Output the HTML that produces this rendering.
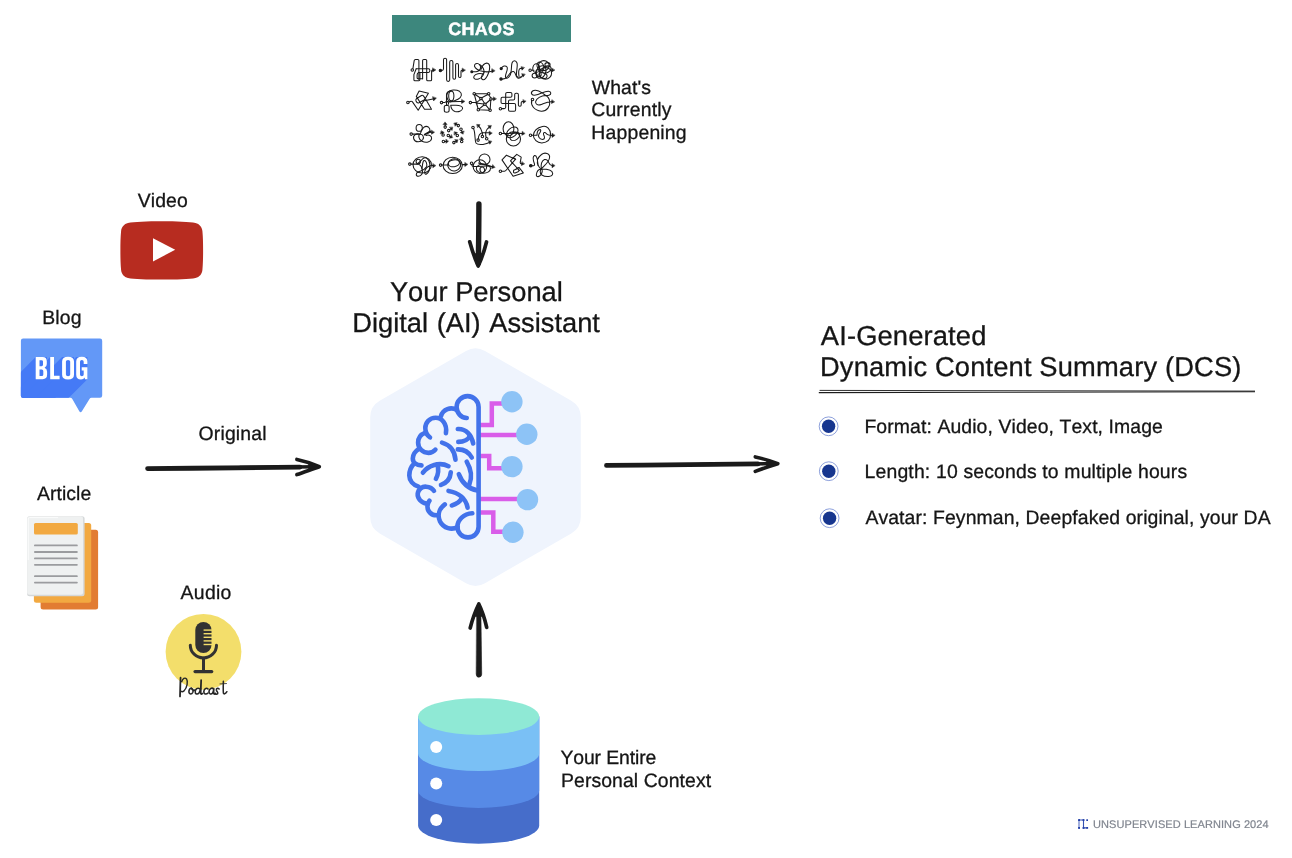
<!DOCTYPE html>
<html>
<head>
<meta charset="utf-8">
<title>Personal Digital AI Assistant</title>
<style>
html,body{margin:0;padding:0;background:#fff;}
body{width:1292px;height:858px;position:relative;overflow:hidden;font-family:"Liberation Sans",sans-serif;color:#151515;font-kerning:none;text-rendering:geometricPrecision;}
#g{position:absolute;left:0;top:0;width:1292px;height:858px;filter:blur(0.35px);}
.t{position:absolute;white-space:nowrap;font-size:19.4px;line-height:23px;}
.h{position:absolute;white-space:nowrap;font-size:27.3px;line-height:32px;}
#txt{position:absolute;left:0;top:0;width:1292px;height:858px;will-change:transform;-webkit-text-stroke:0.3px #151515;filter:blur(0.3px);}
#foot{-webkit-text-stroke:0.2px #7f848e;}
#chaos{position:absolute;left:392px;top:15px;width:179px;height:26.5px;background:#3d877d;color:#fff;font-weight:bold;font-size:17.9px;line-height:28.8px;text-align:center;letter-spacing:0.35px;-webkit-text-stroke:0.5px #fff;overflow:hidden;}
#foot{position:absolute;left:1093px;top:819px;font-size:11px;line-height:13px;color:#7f848e;white-space:nowrap;letter-spacing:0.08px;}
</style>
</head>
<body>
<svg id="g" viewBox="0 0 1292 858" width="1292" height="858">
<g fill="none" stroke="#1a1a1a" stroke-width="1.05" stroke-linecap="round" stroke-linejoin="round">
<circle cx="412.3" cy="70.0" r="1.25"/>
<path d="M412.9 68.7 L414.2 60.6 Q414.4 59.5 415.5 59.5 H417.8 Q418.9 59.5 418.9 60.6 V79.6"/>
<path d="M422.6 78.7 V60.5 Q422.6 59.4 423.7 59.4 H425.6 Q426.7 59.4 426.7 60.5 V79.8 Q426.7 80.8 427.7 80.8 H430.6 Q431.6 80.8 431.6 79.8 V71.1 Q431.6 70.1 432.6 70.1 H434"/>
<path d="M416.2 68.7 H428.4 Q429.9 68.7 429.9 70.5 Q429.9 72.4 428.4 72.4 H418.6 Q417.1 73.3 417.1 75 V77.7 Q417.1 78.7 418.1 78.7 H422.6"/>
<path d="M416.2 68.7 L413.9 74.6 V79.8 Q413.9 80.8 414.9 80.8 H418.9 Q419.9 80.8 419.9 79.6 V72.4"/>
<path d="M435.6 70.1 L432.6 72.0 L432.6 68.2 Z" fill="#1a1a1a" stroke-width="0.5"/>
<circle cx="440.4" cy="70.5" r="1.20" fill="#1a1a1a"/>
<path d="M440.4 70.4 H442 Q443.5 70.3 443.5 68.8 V59.8 A1.55 1.55 0 0 1 446.6 59.8 V79.8 A1.55 1.6 0 0 0 449.7 79.8 V62 A1.6 1.6 0 0 1 452.9 62 V77.8 A1.35 1.4 0 0 0 455.6 77.8 V65 A1.45 1.5 0 0 1 458.5 65 V76.2 A1.25 1.3 0 0 0 461 76.2 V71.3 Q461 70.3 462 70.3 H463.6"/>
<path d="M465.2 70.3 L462.2 72.2 L462.2 68.4 Z" fill="#1a1a1a" stroke-width="0.5"/>
<circle cx="471.8" cy="71.7" r="1.00" fill="#1a1a1a"/>
<path d="M471.8 71.7 H476 C479 71.6 481 69.5 480.5 66.5 C480 63.5 476.5 62.5 474.800 64.500 C473.500 66.500 476 69.500 480 70.800 C484 72 488 72.500 492.5 71"/>
<path d="M481 69.500 C482 65 485 62.800 487.500 63.200 C490.500 63.800 490 69 488.500 73 C487 77.500 484.500 80.500 482.500 79.500 C480.500 78.500 481.500 75 484 72.500"/>
<path d="M483 74 C480 72.800 475.500 73.800 474 76.200 C472.800 78.500 475.500 80 478.500 79 C481.500 78 483.500 75.500 484 72.500 C484.300 70 482.500 66.500 479.500 64.500"/>
<path d="M494.8 70.9 L491.8 72.8 L491.8 69.0 Z" fill="#1a1a1a" stroke-width="0.5"/>
<circle cx="501.2" cy="68.5" r="1.10" fill="#1a1a1a"/>
<circle cx="501.0" cy="79.0" r="1.20" fill="#1a1a1a"/>
<path d="M501.2 68.5 C502.500 66 505.500 65 507 67 C508.500 69.500 505 74 505.500 77 C506 79.500 508.500 78 510 75.500 C512 72 511 66 512 63 C513 60 516 60 517 63 C518 66 516 72 516.500 75.500 C517 78 519.500 77 521 77"/>
<path d="M501 79 C504 79.500 506 78.500 507.500 76.500 C509.500 73.500 511.500 71.200 513.500 71.500 C516 72 515 76 517.500 77.800 C519.500 79 522 76.500 523 75"/>
<path d="M519 76 C518.500 73 518.500 70.500 519.500 69 C520.300 68 521.500 68.500 522.500 68.300"/>
<path d="M524.3 67.8 L522.0 70.2 L521.2 66.9 Z" fill="#1a1a1a" stroke-width="0.5"/>
<path d="M525.0 74.5 L523.0 77.1 L521.8 73.9 Z" fill="#1a1a1a" stroke-width="0.5"/>
<circle cx="530.1" cy="70.2" r="1.20"/>
<path d="M531.4 70.3 H534"/>
<ellipse cx="543.8" cy="65.6" rx="5.4" ry="5.0"/>
<ellipse cx="545.4" cy="73.3" rx="6.2" ry="5.8"/>
<ellipse cx="536.2" cy="68.2" rx="3.4" ry="4.4" transform="rotate(10 536.2 68.2)"/>
<ellipse cx="534.6" cy="75.6" rx="2.5" ry="2.4"/>
<ellipse cx="541.0" cy="72.0" rx="4.6" ry="6.6" transform="rotate(25 541.0 72.0)"/>
<ellipse cx="546.5" cy="69.5" rx="4.8" ry="3.2" transform="rotate(-30 546.5 69.5)"/>
<ellipse cx="540.5" cy="66.5" rx="3.2" ry="4.6" transform="rotate(-25 540.5 66.5)"/>
<ellipse cx="543.0" cy="75.5" rx="4.2" ry="2.6" transform="rotate(20 543.0 75.5)"/>
<ellipse cx="547.5" cy="64.8" rx="2.6" ry="2.2"/>
<ellipse cx="538.5" cy="73.2" rx="2.4" ry="3.6" transform="rotate(-20 538.5 73.2)"/>
<path d="M550.5 70.2 H552.5"/>
<path d="M554.6 70.2 L551.6 72.1 L551.6 68.3 Z" fill="#1a1a1a" stroke-width="0.5"/>
<circle cx="407.9" cy="102.5" r="1.25"/>
<path d="M409.2 102 Q411 100.800 412.3 101.6 L418.2 110.3 L428.400 93.300 L419.100 91.100 L416.300 96.400 L424.500 109.300 H431.500 L425.300 98.400 L423.200 95.600 Q422.500 95 421.500 95.500 L416.600 98.500 Q415.500 99.500 416 101 Q417 103.500 419 102.800 L424 100 Q425.500 99 424.800 97.800"/>
<path d="M424.5 100.800 L434 98.800"/>
<path d="M436.2 98.2 L433.6 100.9 L432.6 97.0 Z" fill="#1a1a1a" stroke-width="0.5"/>
<circle cx="441.5" cy="102.6" r="1.25"/>
<path d="M442.800 102.500 H445 Q447 100.500 448.200 102 Q449.200 103.500 447.800 105"/>
<path d="M450 102 C447 99.5 445.8 96 447.6 92.5 C450 89.5 456 89.3 459.5 91.3 C462.5 93.5 462 97 458 99.3 C455.5 100.7 452.5 101.5 450 102"/>
<ellipse cx="451.3" cy="96.0" rx="2.6" ry="4.7"/>
<path d="M450.7 105.2 C451 108 452.5 110.5 455 111.5 C458.5 112.5 462 111 462.6 108.5 C462.8 106.5 460 105.2 456 105.2 C454 105.2 452 105.2 450.7 105.2"/>
<path d="M444.300 106.500 Q444.300 105.500 445.500 105.500 H447.800 Q449.100 105.500 449.100 106.800 V110.500 Q449.100 112.200 446.700 112.200 Q444.300 112.200 444.300 110.500 Z"/>
<path d="M446.500 105.500 V95 Q446.500 92 449.500 91.200"/>
<path d="M447.800 102 C452 101.500 458 101.600 462.500 101.600"/>
<path d="M464.6 101.6 L461.6 103.5 L461.6 99.7 Z" fill="#1a1a1a" stroke-width="0.5"/>
<circle cx="474.2" cy="93.7" r="1.25"/>
<circle cx="488.7" cy="93.7" r="1.25"/>
<circle cx="470.4" cy="102.6" r="1.25"/>
<circle cx="480.9" cy="98.6" r="1.25"/>
<circle cx="490.9" cy="99.0" r="1.25"/>
<circle cx="484.9" cy="104.2" r="1.25"/>
<circle cx="478.3" cy="109.7" r="1.25"/>
<circle cx="490.1" cy="110.3" r="1.25"/>
<path d="M475.400 93.700 H487.500 M474.500 95 L478 108.500 M479.500 109.700 L488.900 110.300 M488.900 95 L490.700 97.800 M490.800 100.200 L490.200 109 M471.700 102.500 H476.500 M475.200 94.500 L480 97.800 M482 99.200 L484.300 103 M485.800 105.200 L489.400 109.400 M487.800 94.500 L481.800 97.800 M480.200 99.700 L476.200 102.800 L478.100 108.500 M484 105 L479.300 108.900 M486 103.500 L490 100 M476 103 L483.700 104"/>
<path d="M492.100 99 H494"/>
<path d="M496.2 99.0 L493.4 100.8 L493.4 97.2 Z" fill="#1a1a1a" stroke-width="0.5"/>
<circle cx="500.4" cy="108.8" r="1.25"/>
<path d="M501.700 108.600 H504.400 Q505.700 108.500 505.700 107.200 V93.800 Q505.700 92.400 507.100 92.400 H510.500 Q511.900 92.400 511.900 93.800 V96 Q511.900 97.300 510.500 97.300 H502.400 Q501.050 97.300 501.050 98.700 V102.200 Q501.050 103.500 502.400 103.500 H514.200 Q515.600 103.500 515.600 104.900 V109.800 Q515.600 111.200 514.200 111.200 H509.900 Q508.500 111.200 508.500 109.800 V101.400 Q508.500 100 509.900 100 H513.300 Q514.700 100 514.700 98.600 V94.600 Q514.700 93.300 516.100 93.300 H517 Q518.400 93.300 518.400 94.700 V105 Q518.400 106.200 519.600 106.200 H520 Q521.200 106.200 521.200 105 V102.700 Q521.200 101.500 522.400 101.500 H523.800"/>
<path d="M525.8 101.4 L523.2 103.4 L522.9 99.9 Z" fill="#1a1a1a" stroke-width="0.5"/>
<circle cx="532.5" cy="99.4" r="1.25"/>
<path d="M531.700 100.500 C530.500 105 534 110.500 541.300 111.200 C547 111.500 550.500 106 549.700 101.500 C549.200 98.500 547.500 96.200 545.600 95.500 C541 95.500 536.500 98.500 535.700 101.300 C535 104 537.500 105.800 541.300 104.400 C545 103 548.500 101.200 552.300 101.800"/>
<path d="M545.600 95.500 C541.500 91.500 535.500 88.800 532.600 91 C530 93.200 532 95.800 535.700 95.100 C540 94.200 544.500 91 548.500 91.200 C551.500 91.500 551.500 94.500 549 95.200 C547.500 95.600 546.500 95.600 545.600 95.500"/>
<path d="M554.4 102.0 L551.5 103.5 L551.8 100.0 Z" fill="#1a1a1a" stroke-width="0.5"/>
<circle cx="411.2" cy="134.1" r="1.25"/>
<path d="M412.500 134.100 H420"/>
<ellipse cx="419.2" cy="127.9" rx="3.1" ry="3.4"/>
<path d="M420.500 133.500 C421.500 128 425.500 124.800 428.500 127.200 C431 129.500 430 132 427.500 133.200"/>
<path d="M420 134.200 C416 133 412.500 135.500 413.800 139 C415 142.500 420.500 142.800 422.800 139.500 C424.500 136.800 422.500 134 420 134.300 C418 135 418.500 139.500 422 141.200 C426 143.200 431 142.200 431.600 138.500 C432 135.500 428.500 134.500 426 135.500"/>
<path d="M424.800 134.500 L430.200 131.600" stroke-width="1.9"/>
<path d="M430.200 132.300 H432"/>
<path d="M434.3 132.4 L431.5 134.3 L431.5 130.5 Z" fill="#1a1a1a" stroke-width="0.5"/>
<circle cx="445.2" cy="127.1" r="1.25"/>
<path d="M445.2 125.8 L445.2 123.7"/>
<path d="M445.2 122.2 L447.1 124.6 L443.3 124.6 Z" fill="#1a1a1a" stroke-width="0.5"/>
<circle cx="458.3" cy="125.6" r="1.25"/>
<path d="M457.2 124.9 L455.5 123.9"/>
<path d="M454.2 123.1 L457.2 122.7 L455.3 126.0 Z" fill="#1a1a1a" stroke-width="0.5"/>
<circle cx="448.7" cy="130.6" r="1.25"/>
<path d="M449.7 129.8 L451.5 128.4"/>
<path d="M452.7 127.5 L452.0 130.5 L449.6 127.5 Z" fill="#1a1a1a" stroke-width="0.5"/>
<circle cx="461.0" cy="129.3" r="1.25"/>
<path d="M461.5 130.5 L462.3 132.6"/>
<path d="M462.9 134.0 L460.2 132.5 L463.8 131.1 Z" fill="#1a1a1a" stroke-width="0.5"/>
<circle cx="443.1" cy="134.9" r="1.25"/>
<path d="M442.6 133.7 L442.1 132.3"/>
<path d="M441.5 130.9 L444.2 132.4 L440.6 133.8 Z" fill="#1a1a1a" stroke-width="0.5"/>
<circle cx="448.3" cy="135.5" r="1.25"/>
<path d="M449.4 136.1 L451.1 137.0"/>
<path d="M452.4 137.7 L449.4 138.2 L451.2 134.9 Z" fill="#1a1a1a" stroke-width="0.5"/>
<circle cx="457.3" cy="135.5" r="1.25"/>
<path d="M456.5 134.5 L455.4 133.0"/>
<path d="M454.5 131.8 L457.5 132.6 L454.4 134.9 Z" fill="#1a1a1a" stroke-width="0.5"/>
<circle cx="443.4" cy="141.4" r="1.25"/>
<path d="M444.7 141.4 L446.8 141.4"/>
<path d="M448.3 141.4 L445.9 143.3 L445.9 139.5 Z" fill="#1a1a1a" stroke-width="0.5"/>
<circle cx="453.9" cy="142.6" r="1.25"/>
<path d="M455.0 141.9 L456.6 140.9"/>
<path d="M457.9 140.1 L456.9 143.0 L454.9 139.8 Z" fill="#1a1a1a" stroke-width="0.5"/>
<circle cx="461.7" cy="141.4" r="1.25"/>
<path d="M461.7 140.1 L461.7 138.6"/>
<path d="M461.7 137.1 L463.6 139.5 L459.8 139.5 Z" fill="#1a1a1a" stroke-width="0.5"/>
<circle cx="473.0" cy="127.5" r="1.25"/>
<circle cx="478.1" cy="140.1" r="1.25"/>
<circle cx="482.4" cy="136.4" r="1.25"/>
<circle cx="486.7" cy="138.8" r="1.25"/>
<path d="M473.600 128.700 C475.500 133 474.500 140 476 143 Q477.300 145 483 144.400 Q487 143.800 490 142.300"/>
<path d="M491.6 141.6 L489.8 144.2 L488.5 140.8 Z" fill="#1a1a1a" stroke-width="0.5"/>
<path d="M478.300 138.800 C478.500 135.500 480 133.300 482.500 132.800 H490"/>
<path d="M492.0 133.3 L489.2 135.2 L489.2 131.4 Z" fill="#1a1a1a" stroke-width="0.5"/>
<path d="M482.300 132.800 C481.500 129.500 480 127 478.200 125.500"/>
<path d="M477.0 124.4 L480.1 124.7 L477.8 127.5 Z" fill="#1a1a1a" stroke-width="0.5"/>
<path d="M485.600 133 C486.200 130 488 127.800 490 126.600"/>
<path d="M491.3 125.8 L490.2 128.8 L488.1 125.8 Z" fill="#1a1a1a" stroke-width="0.5"/>
<path d="M485.700 133 C485.500 135 485.800 136.500 486.300 137.600 M482.400 135.100 V133"/>
<circle cx="500.4" cy="133.5" r="1.25"/>
<path d="M501.700 133.500 H506 C512 133 518 133 522.500 133.600"/>
<ellipse cx="508.5" cy="128.8" rx="5.4" ry="7.0"/>
<ellipse cx="512.2" cy="132.4" rx="6.6" ry="4.3" transform="rotate(-40 512.2 132.4)"/>
<ellipse cx="514.8" cy="136.4" rx="5.2" ry="3.6" transform="rotate(-35 514.8 136.4)"/>
<ellipse cx="513.4" cy="138.9" rx="7.1" ry="7.1"/>
<path d="M524.8 133.7 L521.8 135.3 L522.2 131.6 Z" fill="#1a1a1a" stroke-width="0.5"/>
<circle cx="530.5" cy="135.2" r="1.25"/>
<path d="M531.800 135.200 H533.300 C534 130 538 127.500 542.500 126.500 C547 125.500 550.500 129 550.600 134.500 C550.500 139.500 547 142.500 541.900 142.900 C537 143 533.600 139.500 533.300 135.300"/>
<path d="M533.300 135.200 H537 C537 131.500 538.200 129.800 540 129.600 C541.500 129.800 540.500 132 539 134 C537.500 136.500 539.500 139 542.500 139.500 C545 139.500 545 137 543.500 134.500 C543 132.500 545 131.800 546 133.300 C547 135 549.500 135.400 552.500 135.400"/>
<path d="M554.8 135.5 L552.0 137.4 L552.0 133.6 Z" fill="#1a1a1a" stroke-width="0.5"/>
<circle cx="409.8" cy="164.1" r="1.25"/>
<path d="M411.100 164.100 H417 C419.500 164.200 421.500 166.500 422 169"/>
<ellipse cx="422.2" cy="164.8" rx="9.2" ry="8.1"/>
<ellipse cx="418.3" cy="161.5" rx="2.2" ry="2.3"/>
<path d="M417 164.100 C419 163 421 160.500 423 158.500 C426 156.500 429.500 159.500 429.800 164 C430 168 429 172.500 426.500 174 C424.500 174.800 424 172 425.500 169.500 C427 167 429 165.300 433 165.600"/>
<path d="M422 169 C423.500 173 421.500 176.200 418.500 176.300 C415.500 176.200 415.500 173 418.500 171.800 C421 170.800 424.500 170.500 426.500 166.800 C427.500 164.500 426 160 424 160.500 C422.500 161.500 422.500 165 422 169"/>
<path d="M435.6 165.8 L432.8 167.7 L432.8 163.9 Z" fill="#1a1a1a" stroke-width="0.5"/>
<circle cx="440.6" cy="165.1" r="1.25"/>
<path d="M441.900 165 H448.300"/>
<ellipse cx="452.7" cy="165.4" rx="9.6" ry="8.2"/>
<ellipse cx="454.2" cy="164.8" rx="6.5" ry="6.1" transform="rotate(-15 454.2 164.8)"/>
<ellipse cx="453.9" cy="163.3" rx="5.6" ry="3.4" transform="rotate(-8 453.9 163.3)"/>
<path d="M462.300 164.600 H465.500"/>
<path d="M467.6 164.6 L464.8 166.5 L464.8 162.7 Z" fill="#1a1a1a" stroke-width="0.5"/>
<circle cx="471.6" cy="163.3" r="1.30"/>
<path d="M471.800 164.600 Q471.800 166.500 473.200 166.500 H478 C483 166 489 165.500 492.500 166.800"/>
<ellipse cx="479.9" cy="166.6" rx="6.8" ry="6.8"/>
<ellipse cx="484.5" cy="159.4" rx="5.5" ry="5.3"/>
<ellipse cx="483.4" cy="168.6" rx="7.1" ry="4.6"/>
<ellipse cx="482.3" cy="169.8" rx="2.3" ry="2.8" transform="rotate(-10 482.3 169.8)"/>
<path d="M478.500 163 C482 164 487 164.500 492.500 166.800"/>
<path d="M494.8 167.5 L491.6 168.6 L492.6 164.9 Z" fill="#1a1a1a" stroke-width="0.5"/>
<circle cx="500.4" cy="171.3" r="1.25"/>
<path d="M501.700 171.200 H504.300 Q505.500 171 506.300 170 L515.600 159.200 L513.200 157.800 L510.500 160.800 L519.500 170.500"/>
<path d="M506.300 155.300 L502 159.900 L513.100 176.300 L523.300 172.900 L519 167.400 L516.300 168.300"/>
<path d="M506.300 155.300 L515.600 159.200"/>
<path d="M512.500 158.500 L516.800 154.400 L521.200 157.100 L520.200 162.600 Q520.300 163.700 521.500 163.800 H522.300"/>
<path d="M513.600 170.200 L517.300 168.800 Q518.300 168.600 518.600 169.500 L518.900 170.600 Q519 171.500 518.100 171.800 L515 172.900 Q513.900 173.100 513.500 172.200 Z"/>
<path d="M524.4 164.0 L521.4 165.6 L521.8 161.9 Z" fill="#1a1a1a" stroke-width="0.5"/>
<circle cx="530.8" cy="165.7" r="1.30" fill="#1a1a1a"/>
<path d="M530.800 165.700 H533.500 Q534.800 165.500 534.500 164 C533 160 532.500 156.500 534.500 155.500 C536.500 155 537.500 159 537.800 163 C538.200 167 540.500 168.500 541.500 169 C543.500 166 548.500 163 549.500 158 C550.500 153 544.500 152 541.500 154.500 C537.500 157.500 536.500 162 538 165.500"/>
<path d="M541.500 169 C538.500 168.500 536.500 172 536.300 175 C536.500 177.500 539.500 177 541 174.500 C542.500 172 542.500 170 541.500 169 C540 169.500 539.500 174 541.800 175 C546 177.500 552.500 177 552.700 173.500 C552.500 170 546.500 169 541.500 169 C540.500 165 541.500 160.500 544.500 159.500 C547.500 159 548.500 161.500 549 163 Q550 165.500 552.500 165.700"/>
<path d="M554.8 165.8 L552.0 167.7 L552.0 163.9 Z" fill="#1a1a1a" stroke-width="0.5"/>
</g>

<g>
<path d="M161.75 221.3 C176 221.3 190 221.8 195.5 223 C199.5 224 202 227 202.4 231 C203 237 203.1 244 203.1 250.4 C203.1 257 203 264 202.4 270 C202 274 199.5 277 195.5 278 C190 279.2 176 279.6 161.75 279.6 C147.5 279.6 133.5 279.2 128 278 C124 277 121.5 274 121.1 270 C120.5 264 120.4 257 120.4 250.4 C120.4 244 120.5 237 121.1 231 C121.500 227 124 224 128 223 C133.5 221.800 147.5 221.3 161.75 221.3 Z" fill="#b72c20"/>
<path d="M153 238.2 L175.2 249.8 L153 261.4 Z" fill="#fff"/>
</g>

<g>
<clipPath id="blogclip"><rect x="20.9" y="338.6" width="81.3" height="59.1" rx="2.2"/></clipPath>
<path d="M23.1 338.6 H100 Q102.2 338.600 102.2 340.800 V395.500 Q102.2 397.700 100 397.700 H91.5 Q90.2 397.800 89.5 399 L81.9 411.2 Q80.6 413.200 79.300 411.200 L72.300 399 Q71.600 397.800 70.300 397.700 H23.1 Q20.9 397.700 20.9 395.500 V340.800 Q20.9 338.600 23.1 338.600 Z" fill="#6398f7"/>
<g clip-path="url(#blogclip)" fill="#457af6">
<polygon points="35.7,357.0 47.0,357.0 47.0,379.2 -23.0,449.2 -34.3,449.2 -34.3,427.0"/>
<polygon points="50.2,357.0 54.0,357.0 54.0,379.2 -16.0,449.2 -19.8,449.2 -19.8,427.0"/>
<polygon points="50.2,375.8 59.6,375.8 59.6,379.2 -10.4,449.2 -19.8,449.2 -19.8,445.8"/>
<polygon points="62.1,357.0 74.0,357.0 74.0,379.2 4.0,449.2 -7.9,449.2 -7.9,427.0"/>
<polygon points="76.2,357.0 87.4,357.0 87.4,379.2 17.4,449.2 6.2,449.2 6.2,427.0"/>
</g>
<g fill="#fff" fill-rule="evenodd">
<path d="M35.7 357 H42.5 Q46.8 357 46.8 361.3 V364 Q46.8 367 44.6 367.8 Q47.1 368.6 47.1 371.8 V374.6 Q47.1 379.2 42.6 379.2 H35.7 Z M39.5 360.2 V366.2 H41.6 Q43 366.2 43 364.8 V361.6 Q43 360.2 41.6 360.2 Z M39.5 369.4 V376 H41.8 Q43.3 376 43.3 374.5 V370.9 Q43.3 369.4 41.8 369.4 Z"/>
<path d="M50.2 357 H54 V375.8 H59.6 V379.2 H50.2 Z"/>
<path d="M62.1 361.5 Q62.1 356.7 68.05 356.7 Q74 356.7 74 361.5 V374.7 Q74 379.5 68.05 379.5 Q62.1 379.5 62.1 374.7 Z M65.9 361.6 Q65.9 360 68.05 360 Q70.2 360 70.2 361.6 V374.6 Q70.2 376.2 68.05 376.2 Q65.9 376.2 65.9 374.6 Z"/>
<path d="M76.2 361.5 Q76.2 356.7 81.8 356.7 Q87.4 356.7 87.4 361.5 V364 H83.7 V361.7 Q83.7 360 81.85 360 Q80 360 80 361.7 V374.5 Q80 376.2 81.85 376.2 Q83.7 376.2 83.7 374.5 V370.5 H81.7 V367.3 H87.4 V379.2 H85 L84.6 377.6 Q83.6 379.5 81 379.5 Q76.2 379.5 76.2 374.7 Z"/>
</g>
</g>

<g>
<rect x="40.6" y="529.7" width="57.5" height="79.8" rx="2.5" fill="#e27c32"/>
<rect x="33.9" y="523" width="57.3" height="79.7" rx="2.5" fill="#f2a941"/>
<rect x="27.1" y="516.3" width="57.5" height="80" rx="2.5" fill="#d5d8d9"/>
<rect x="27.1" y="516.3" width="56" height="78.5" rx="2.3" fill="#eff1f1"/>
<path d="M28.3 560 V519 Q28.3 517.6 29.7 517.6 H58" fill="none" stroke="#fbfcfc" stroke-width="1"/>
<rect x="34" y="523" width="43.8" height="11.6" rx="1.6" fill="#f2a941"/>
<g stroke="#9b9c9f" stroke-width="1.8" stroke-linecap="round">
<line x1="34.9" y1="545.4" x2="76.9" y2="545.4"/>
<line x1="34.9" y1="552" x2="76.9" y2="552"/>
<line x1="34.9" y1="558.4" x2="76.9" y2="558.4"/>
<line x1="34.9" y1="564.8" x2="76.9" y2="564.8"/>
<line x1="34.9" y1="576.2" x2="76.9" y2="576.2"/>
<line x1="34.9" y1="582.6" x2="76.9" y2="582.6"/>
</g>
</g>

<g>
<circle cx="203.5" cy="651.8" r="37.9" fill="#f3de6b"/>
<rect x="195.3" y="622" width="16.2" height="31" rx="8.1" fill="#323232"/>
<g fill="#f3de6b">
<rect x="203.6" y="629.4" width="8.5" height="1.4"/>
<rect x="203.6" y="633" width="8.5" height="1.4"/>
<rect x="203.6" y="636.6" width="8.5" height="1.4"/>
<rect x="203.6" y="640.2" width="8.5" height="1.4"/>
<rect x="203.6" y="643.8" width="8.5" height="1.4"/>
</g>
<g fill="none" stroke="#323232" stroke-width="3" stroke-linecap="round">
<path d="M190.3 645.2 A13 12.600 0 0 0 216.5 645.2"/>
<path d="M203.5 658 V671.4"/>
<path d="M195 671.600 H211.800" stroke-width="3.1"/>
</g>
<g transform="translate(170,670) scale(0.05418)" fill="none" stroke="#262626" stroke-width="29" stroke-linecap="round" stroke-linejoin="round">
<path d="M195 142 C190 250 188 380 185 488" stroke-width="33"/>
<path d="M215 215 C235 160 275 130 305 165 C335 210 320 320 260 385 C235 405 205 405 200 385" stroke-width="26"/>
<path d="M395 335 C360 335 345 380 350 415 C355 450 400 455 420 415 C435 380 425 340 395 335 C405 370 430 385 460 370"/>
<path d="M545 345 C510 320 470 350 465 400 C462 450 510 455 535 425 C550 400 560 370 565 345"/>
<path d="M575 188 C572 270 568 360 566 420 C566 445 580 450 595 435" stroke-width="33"/>
<g transform="translate(12,0)">
<path d="M690 350 C660 320 615 345 612 400 C610 450 660 455 690 425" stroke-width="30"/>
<path d="M790 350 C765 320 715 340 708 395 C704 450 750 455 775 425 C790 400 795 370 798 345 C794 390 790 430 800 442 C810 450 822 445 830 432" stroke-width="30"/>
<path d="M895 350 C870 325 835 340 845 375 C858 405 885 420 865 442 C850 452 825 448 815 432"/>
</g>
<path d="M985 208 C983 280 980 370 985 420 C990 450 1020 450 1050 400" stroke-width="28"/>
<path d="M922 257 L1043 250" stroke-width="15"/>
</g>
</g>

<g fill="none" stroke="#1b1b1b" stroke-linecap="round" stroke-linejoin="round">
<!-- left arrow -->
<path d="M147.6 468.6 C200 468.3 260 467.4 300 467.1" stroke-width="4.8"/>
<path d="M240 467.6 L316 466.8" stroke-width="3.6"/>
<path d="M296.9 459.5 C305 461.2 313 463.8 319.3 466.7 C312 469.2 304 472.2 296.9 474.6" stroke-width="3.7"/>
<path d="M309 464.2 L318.5 466.7 L309 469.6 Z" fill="#1b1b1b" stroke-width="1.5"/>
<!-- right arrow -->
<path d="M606.4 465.4 C660 465 720 464.3 758 463.9" stroke-width="4.6"/>
<path d="M700 464.5 L775 463.7" stroke-width="3.5"/>
<path d="M755.3 456.9 C763 458.6 771 461 777.8 463.7 C770 466 762 468.8 755.3 471.4" stroke-width="3.6"/>
<path d="M767 461.2 L777 463.7 L767 466.6 Z" fill="#1b1b1b" stroke-width="1.5"/>
<!-- down arrow -->
<path d="M478.9 204 C478.9 225 478.6 245 478.3 263" stroke-width="5.4"/>
<path d="M478.6 235 L478.3 264" stroke-width="4.4"/>
<path d="M469.7 241.8 C472 250 475 259 478.2 266 C481.5 259 484.5 250 486.5 242" stroke-width="3.7"/>
<path d="M474.8 254 L478.3 265 L481.8 254 Z" fill="#1b1b1b" stroke-width="1.5"/>
<!-- up arrow -->
<path d="M476.2 674.4 Q476.4 677.3 478.9 677.2 Q481.6 677 481.7 674.2 L480.9 612 L476.9 612 Z" fill="#1b1b1b" stroke-width="0.6"/>
<path d="M470.2 628 C472.5 619 475.6 610.5 478.8 604 C482 610.5 484.8 619 486.7 627.4" stroke-width="3.7"/>
<path d="M475.2 616 L478.8 605 L482.4 616 Z" fill="#1b1b1b" stroke-width="1.5"/>
</g>

<path d="M466.00 350.99 A19.00 19.00 0 0 1 485.00 350.99 L571.30 400.82 A19.00 19.00 0 0 1 580.80 417.27 L580.80 516.93 A19.00 19.00 0 0 1 571.30 533.38 L485.00 583.21 A19.00 19.00 0 0 1 466.00 583.21 L379.70 533.38 A19.00 19.00 0 0 1 370.20 516.93 L370.20 417.27 A19.00 19.00 0 0 1 379.70 400.82 Z" fill="#eff4fd"/>

<g fill="none" stroke="#d95de9" stroke-width="4.5">
<path d="M480 424.9 H491.8 V403.5 H504"/>
<path d="M480 435 H520"/>
<path d="M480 456.1 H489.2 V468.3 H504"/>
<path d="M480 498.9 H520"/>
<path d="M480 512.6 H493.3 V531.7 H505"/>
</g>
<g fill="#8dc3f6">
<circle cx="511.9" cy="401.8" r="10.7"/>
<circle cx="526.8" cy="434.2" r="10.7"/>
<circle cx="511.9" cy="466.6" r="10.7"/>
<circle cx="527.5" cy="499.6" r="10.7"/>
<circle cx="512.9" cy="532.2" r="10.7"/>
</g>
<g fill="none" stroke="#4272ea" stroke-width="4.6" stroke-linecap="round" stroke-linejoin="round">
<!-- bar + top lobe + bottom lobe -->
<path d="M466.7 418 C461 417.600 456.6 413 456.6 407.1 A11 11 0 0 1 478.600 407.100 V526.8 A10.6 10.6 0 0 1 457.4 526.8 C457.4 519.8 463.8 513.8 472.3 513.3"/>
<!-- lobe2 -->
<path d="M456.8 410 A10.7 10.7 0 0 0 441 416"/>
<!-- lobe3 -->
<path d="M445.9 433.2 C447.500 423.500 441.500 417.700 435.700 417.700 C429.500 417.700 425.300 422.500 425.300 428.100 C425.300 432.500 427.500 435.800 430 437.400"/>
<!-- lobe4 -->
<path d="M425.4 432.6 C420.500 434.500 418.100 438.500 418.100 442.600 C418.100 448.500 422.800 452.900 428.400 452.900 C431.200 452.900 433.700 451.700 435.400 449.600"/>
<!-- lobe5 -->
<path d="M418.800 448.800 C415.500 451 412.800 454.500 412.800 458.500 C412.800 462.500 416.500 465.200 421.500 465.400"/>
<!-- lobe6 -->
<path d="M414.3 463.3 C411 466.500 409.300 471 409.300 475.500 C409.300 480.500 413 484.800 418.500 486.600"/>
<!-- lobe7 -->
<path d="M426.600 503.500 C421.500 503 417.300 498.400 417.700 493.700 C418.200 489 422.400 486.400 426.100 486.700 C429.800 487 432.600 488.600 434 490.900"/>
<!-- lobe8 -->
<path d="M436.800 515.300 C431.700 515.600 427 511.400 427.500 505.800 Q427.800 502.600 429.400 500.700"/>
<!-- lobe9 -->
<path d="M457.600 526.800 C452.200 530.400 443.500 528.500 439.900 521.200 C437.300 515.200 439.200 508.600 444.800 504.400"/>
<!-- inner strokes -->
<path d="M457.800 429 C466 428.500 471.500 435 473.200 443.500"/>
<path d="M458.300 441.900 C464 441.800 467.800 439.800 469.800 436.300"/>
<path d="M442 442.600 C450.500 445 454.800 451.500 455.500 459.800"/>
<path d="M457.800 449.400 C464.500 449.300 469 452.500 471.800 457.500"/>
<path d="M466.700 461.700 C471.500 470 472.500 477 469.300 484.500"/>
<path d="M458.800 474.100 C462.2 483.300 468.500 488.700 477.500 490.600"/>
<path d="M422.900 472.700 C428 465.500 439.500 461.500 448.500 466.200"/>
<path d="M437.400 464.300 Q439.600 472 435.900 478.800"/>
<path d="M450.800 472.300 C450.300 478.500 446.500 483 441 484.900"/>
<path d="M448.500 490.900 C458.500 492.500 466 498.500 467.600 507.700"/>
<path d="M451.800 505.400 C456.500 504.300 460 501.800 462.200 497.700"/>
</g>

<g>
<path d="M819.6 390.4 L1000 390.7 L1255 391.1" stroke="#262626" stroke-width="0.95" fill="none"/>
<path d="M818.8 392.6 L1000 392.3 L1255 391.7" stroke="#1e1e1e" stroke-width="1.1" fill="none"/>
<g fill="#fff" stroke="#7088d2" stroke-width="0.8">
<circle cx="828.6" cy="426.3" r="9.4"/><circle cx="828.8" cy="471.2" r="9.4"/><circle cx="829.6" cy="518.2" r="9.4"/>
</g>
<g fill="#17368f">
<circle cx="828.6" cy="426.3" r="6.7"/><circle cx="828.8" cy="471.2" r="6.7"/><circle cx="829.6" cy="518.2" r="6.7"/>
</g>
</g>

<g>
<path d="M418.1 716.5 H539.2 V825.5 A60.55 18.2 0 0 1 418.1 825.5 Z" fill="#466dca"/>
<path d="M418.1 716.5 H539.2 V790.5 A60.55 17.4 0 0 1 418.1 790.5 Z" fill="#578ae6"/>
<path d="M418.1 716.5 H539.2 V753.5 A60.55 17.6 0 0 1 418.1 753.5 Z" fill="#7ac0f5"/>
<ellipse cx="478.65" cy="716.6" rx="60.55" ry="18.4" fill="#8fe9d5"/>
<circle cx="436.2" cy="747" r="6" fill="#fff"/>
<circle cx="436.2" cy="783.5" r="6" fill="#fff"/>
<circle cx="436.2" cy="820" r="6" fill="#fff"/>
</g>

<g>
<g stroke="#3551b3" stroke-width="1.1" fill="none">
<path d="M1079 820 H1083.5 V827.9 H1087.2"/>
<path d="M1079 820 V827.9" stroke="#5b72c4"/>
</g>
<g fill="#2340a8">
<rect x="1078.1" y="819.1" width="1.9" height="1.9"/><rect x="1082.55" y="819.1" width="1.9" height="1.9"/><rect x="1086.3" y="819.3" width="1.7" height="1.7"/>
<rect x="1078.1" y="827" width="1.9" height="1.9"/><rect x="1082.55" y="827" width="1.9" height="1.9"/><rect x="1086.3" y="827" width="1.8" height="1.8"/>
</g>
</g>

</svg>
<div id="txt">
<div id="chaos">CHAOS</div>
<div class="t" style="left:591.8px;top:77px;letter-spacing:0.1px;">What's</div>
<div class="t" style="left:591.2px;top:99px;letter-spacing:0.2px;">Currently</div>
<div class="t" style="left:591.3px;top:122px;letter-spacing:0.19px;">Happening</div>
<div class="t" style="left:137.7px;top:190px;letter-spacing:0.1px;">Video</div>
<div class="t" style="left:42.2px;top:307px;letter-spacing:0.2px;">Blog</div>
<div class="t" style="left:37px;top:483px;letter-spacing:0.05px;">Article</div>
<div class="t" style="left:180.6px;top:582px;letter-spacing:0.3px;">Audio</div>
<div class="t" style="left:198.6px;top:423px;letter-spacing:0.15px;">Original</div>
<div class="h" style="left:276.4px;top:276px;width:400px;text-align:center;">Your Personal</div>
<div class="h" style="left:276.1px;top:307px;width:400px;text-align:center;word-spacing:1px;">Digital (AI) Assistant</div>
<div class="h" style="left:820.8px;top:320px;letter-spacing:0.15px;">AI-Generated</div>
<div class="h" style="left:820px;top:351px;letter-spacing:0.15px;">Dynamic Content Summary (DCS)</div>
<div class="t" style="left:864.4px;top:416px;letter-spacing:0.1px;">Format: Audio, Video, Text, Image</div>
<div class="t" style="left:864.6px;top:461px;letter-spacing:0.16px;">Length: 10 seconds to multiple hours</div>
<div class="t" style="left:865.4px;top:507px;letter-spacing:0.1px;">Avatar: Feynman, Deepfaked original, your DA</div>
<div class="t" style="left:560.4px;top:747px;letter-spacing:-0.1px;">Your Entire</div>
<div class="t" style="left:561px;top:770px;letter-spacing:0.09px;">Personal Context</div>
<div id="foot">UNSUPERVISED LEARNING 2024</div>
</div>
</body>
</html>
